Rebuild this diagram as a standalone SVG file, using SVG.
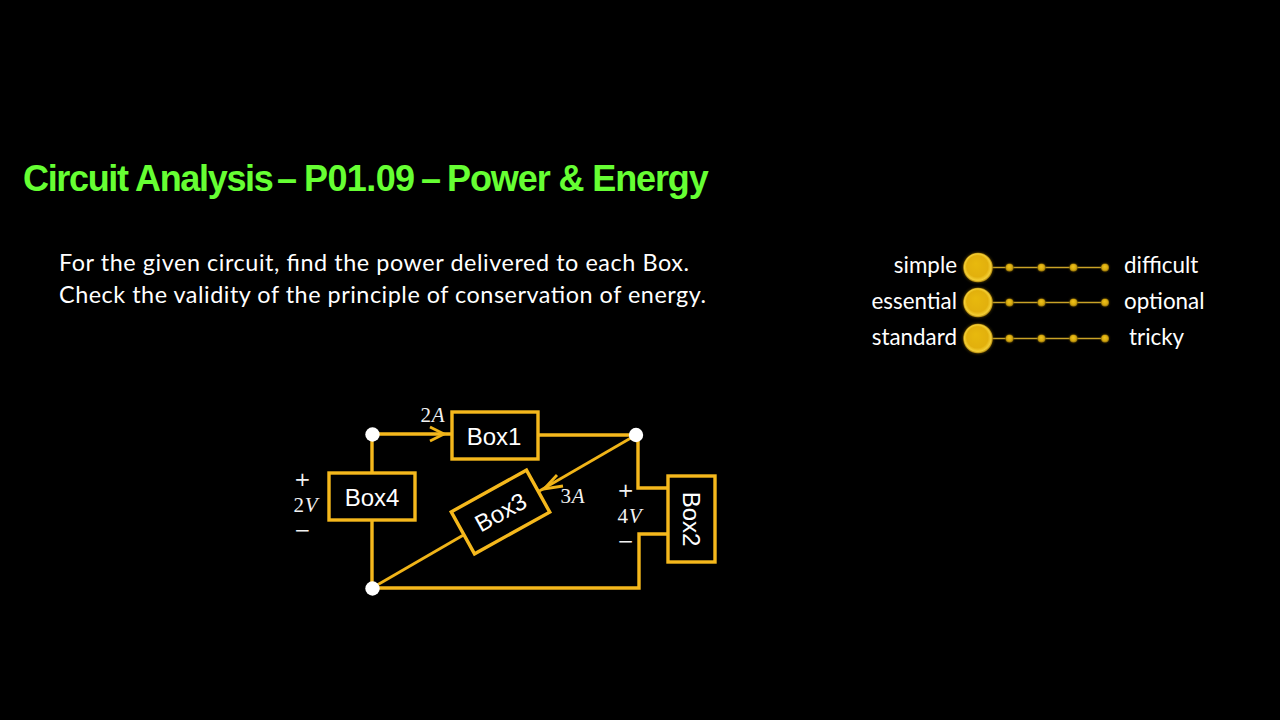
<svg xmlns="http://www.w3.org/2000/svg" width="1280" height="720" viewBox="0 0 1280 720">
<style>
.w{fill:none;stroke:#f5b81c;stroke-width:3.4;stroke-linejoin:miter}
.t{fill:none;stroke:#f0b418;stroke-width:2.8}
.b{fill:#000;stroke:#f5b81c;stroke-width:3.4}
.bt{font-family:"Liberation Sans",Arial,sans-serif;font-size:24px;fill:#fff;text-anchor:middle;dominant-baseline:central}
.n{fill:#fff}
.m{font-family:"Liberation Serif",serif;font-size:21px;letter-spacing:0.8px;fill:#f2f2f2;text-anchor:middle}
.pm{font-family:"DejaVu Sans",sans-serif;font-size:20px;fill:#f2f2f2;text-anchor:middle}
.i{font-style:italic}
.p{font-family:"Lato","Open Sans",sans-serif;font-size:23.4px;fill:#fff}
.s{font-family:"Lato","Open Sans",sans-serif;font-size:22.4px;fill:#fff}
.r{stroke:#c9a227;stroke-width:1.7;fill:none}
.d{fill:url(#dot);filter:url(#glow2)}
.k{fill:url(#ball);filter:url(#glow)}
</style>
<defs>
<radialGradient id="ball" cx="0.5" cy="0.5" r="0.5" fx="0.42" fy="0.36">
<stop offset="0" stop-color="#e8b90e"/><stop offset="0.72" stop-color="#e2b00c"/><stop offset="0.9" stop-color="#f4cf35"/><stop offset="1" stop-color="#a87f0c"/>
</radialGradient>
<radialGradient id="dot" cx="0.5" cy="0.5" r="0.5" fx="0.45" fy="0.35">
<stop offset="0" stop-color="#f0c418"/><stop offset="0.7" stop-color="#d6a80e"/><stop offset="1" stop-color="#8a6a0a"/>
</radialGradient>
<filter id="glow" x="-30%" y="-30%" width="160%" height="160%"><feDropShadow dx="0" dy="0" stdDeviation="1.600" flood-color="#7a5e10" flood-opacity="0.8"/></filter>
<filter id="glow2" x="-50%" y="-50%" width="200%" height="200%"><feDropShadow dx="0" dy="0" stdDeviation="1" flood-color="#7a5e10" flood-opacity="0.7"/></filter>
</defs>
<rect width="1280" height="720" fill="#000"/>
<text id="title" y="191" font-family="'Liberation Sans',Arial,sans-serif" font-weight="700" font-size="36px" fill="#66ff33"><tspan x="23" letter-spacing="-1.330">Circuit Analysis</tspan><tspan x="277" letter-spacing="0">–</tspan><tspan x="304" letter-spacing="-0.600">P01.09</tspan><tspan x="421" letter-spacing="0">–</tspan><tspan x="447" letter-spacing="-1.100">Power &amp; Energy</tspan></text>
<g id="problem">
<text class="p" x="59" y="271" textLength="630" lengthAdjust="spacing">For the given circuit, find the power delivered to each Box.</text>
<text class="p" x="59" y="303" textLength="647" lengthAdjust="spacing">Check the validity of the principle of conservation of energy.</text>
</g>
<g id="connectors">
<path class="w" d="M372 434H451M538 435H636M372 434V472M372 520V588H639V534H667M638 435V488H667"/>
<path class="t" d="M636 435L372 588"/>
<path class="t" d="M430 427L444 434L430 441"/>
<path class="t" d="M557 475L544 489L563 486"/>
</g>
<g id="box1"><rect class="b" x="452" y="412" width="86" height="47"/><text class="bt" x="494" y="436">Box1</text></g>
<g id="box2"><rect class="b" x="668" y="476" width="47" height="86"/><text class="bt" transform="translate(691.5 519) rotate(90)">Box2</text></g>
<g id="box3"><rect class="b" x="-43" y="-24" width="86" height="48" transform="translate(500.5 512) rotate(-29)"/><text class="bt" transform="translate(500.5 512) rotate(-29)">Box3</text></g>
<g id="box4"><rect class="b" x="329" y="473" width="86" height="47"/><text class="bt" x="372" y="497">Box4</text></g>
<g id="node-a"><circle class="n" cx="372.500" cy="434.500" r="7.200"/></g>
<g id="node-b"><circle class="n" cx="636" cy="435" r="7.200"/></g>
<g id="node-c"><circle class="n" cx="372.500" cy="588.500" r="7.200"/></g>
<g id="circuit-labels">
<text class="m" x="433" y="422"><tspan>2</tspan><tspan class="i">A</tspan></text>
<text class="pm" x="302.500" y="486.300">+</text>
<text class="m" x="306" y="512"><tspan>2</tspan><tspan class="i">V</tspan></text>
<text class="pm" x="302.500" y="537">−</text>
<text class="m" x="573" y="503"><tspan>3</tspan><tspan class="i">A</tspan></text>
<text class="pm" x="625.700" y="497.300">+</text>
<text class="m" x="630" y="523"><tspan>4</tspan><tspan class="i">V</tspan></text>
<text class="pm" x="625.700" y="547.500">−</text>
</g>
<g id="scale-1">
<path class="r" d="M990 267.500H1106"/>
<circle class="d" cx="1009.500" cy="267.500" r="4"/><circle class="d" cx="1041.500" cy="267.500" r="4"/><circle class="d" cx="1073.500" cy="267.500" r="4"/><circle class="d" cx="1105" cy="267.500" r="4"/>
<circle class="k" cx="978" cy="267.500" r="14.800"/>
<text class="s" x="957" y="273" text-anchor="end">simple</text>
<text class="s" x="1124" y="273">difficult</text>
</g>
<g id="scale-2">
<path class="r" d="M990 302.500H1106"/>
<circle class="d" cx="1009.500" cy="302.500" r="4"/><circle class="d" cx="1041.500" cy="302.500" r="4"/><circle class="d" cx="1073.500" cy="302.500" r="4"/><circle class="d" cx="1105" cy="302.500" r="4"/>
<circle class="k" cx="978" cy="302.500" r="14.800"/>
<text class="s" x="957" y="309" text-anchor="end">essential</text>
<text class="s" x="1124" y="309">optional</text>
</g>
<g id="scale-3">
<path class="r" d="M990 338.500H1106"/>
<circle class="d" cx="1009.500" cy="338.500" r="4"/><circle class="d" cx="1041.500" cy="338.500" r="4"/><circle class="d" cx="1073.500" cy="338.500" r="4"/><circle class="d" cx="1105" cy="338.500" r="4"/>
<circle class="k" cx="978" cy="338.500" r="14.800"/>
<text class="s" x="957" y="345" text-anchor="end">standard</text>
<text class="s" x="1129" y="345">tricky</text>
</g>
</svg>
